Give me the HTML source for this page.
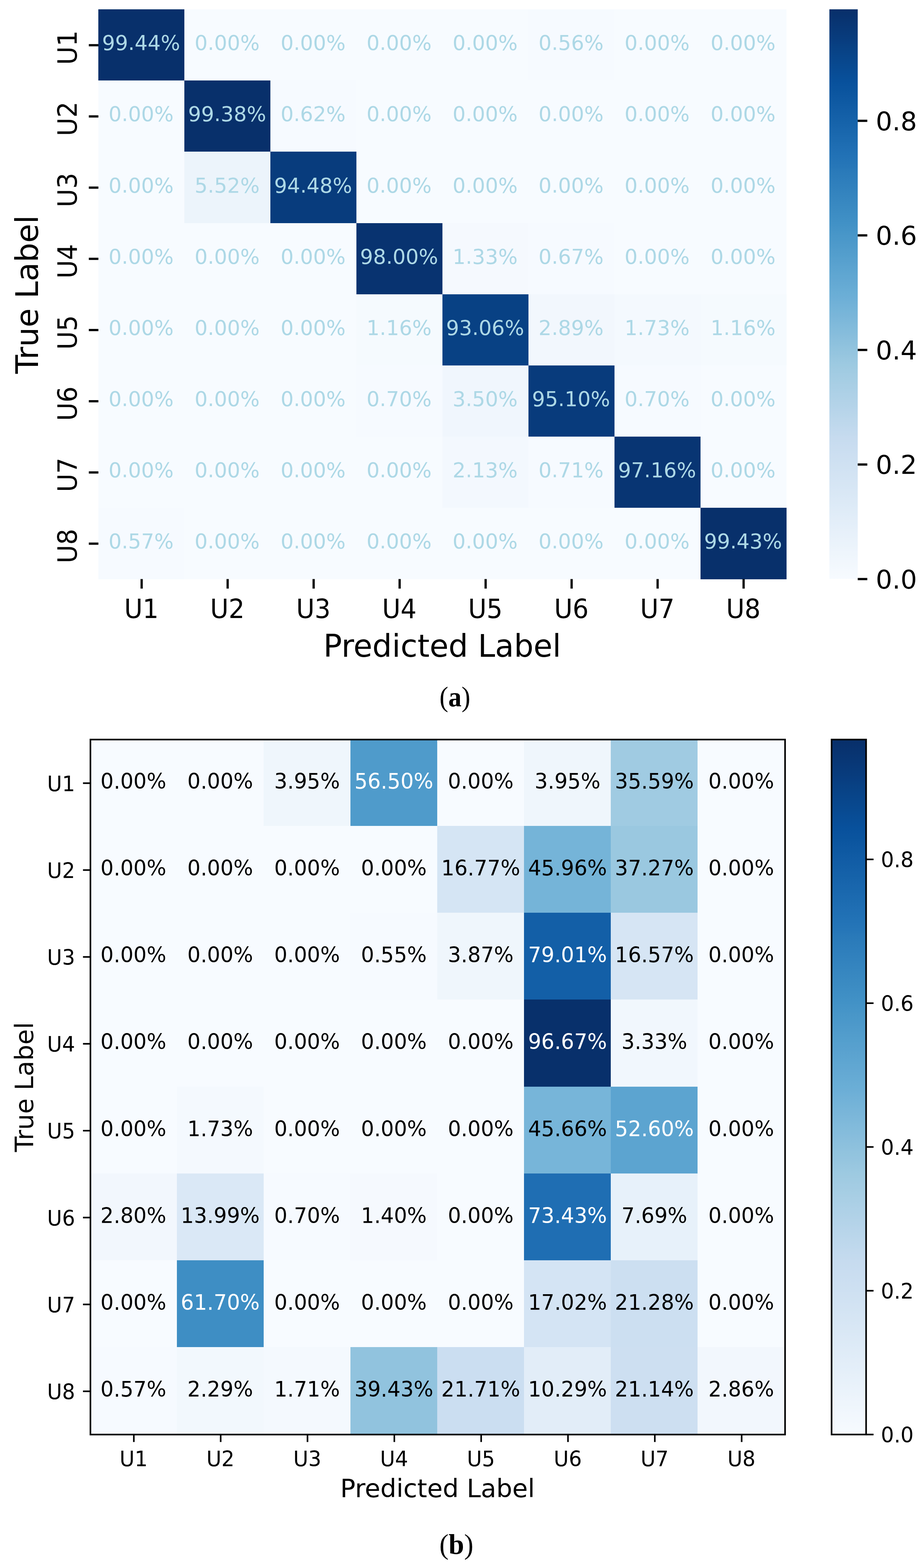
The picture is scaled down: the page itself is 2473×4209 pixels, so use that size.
<!DOCTYPE html>
<html><head><meta charset="utf-8"><title>Confusion matrices</title>
<style>html,body{margin:0;padding:0;background:#fff;}body{width:2473px;height:4209px;overflow:hidden;}svg{display:block;}</style>
</head><body>
<svg width="2473" height="4209" viewBox="0 0 2473 4209">
<defs><linearGradient id="ga" x1="0" y1="1" x2="0" y2="0"><stop offset="0.0000" stop-color="#f7fbff"/><stop offset="0.0039" stop-color="#f6faff"/><stop offset="0.0078" stop-color="#f5fafe"/><stop offset="0.0117" stop-color="#f5f9fe"/><stop offset="0.0156" stop-color="#f4f9fe"/><stop offset="0.0195" stop-color="#f3f8fe"/><stop offset="0.0234" stop-color="#f2f8fd"/><stop offset="0.0273" stop-color="#f2f7fd"/><stop offset="0.0312" stop-color="#f1f7fd"/><stop offset="0.0352" stop-color="#f0f6fd"/><stop offset="0.0391" stop-color="#eff6fc"/><stop offset="0.0430" stop-color="#eef5fc"/><stop offset="0.0469" stop-color="#eef5fc"/><stop offset="0.0508" stop-color="#edf4fc"/><stop offset="0.0547" stop-color="#ecf4fb"/><stop offset="0.0586" stop-color="#ebf3fb"/><stop offset="0.0625" stop-color="#eaf3fb"/><stop offset="0.0664" stop-color="#eaf2fb"/><stop offset="0.0703" stop-color="#e9f2fa"/><stop offset="0.0742" stop-color="#e8f1fa"/><stop offset="0.0781" stop-color="#e7f1fa"/><stop offset="0.0820" stop-color="#e7f0fa"/><stop offset="0.0859" stop-color="#e6f0f9"/><stop offset="0.0898" stop-color="#e5eff9"/><stop offset="0.0938" stop-color="#e4eff9"/><stop offset="0.0977" stop-color="#e3eef9"/><stop offset="0.1016" stop-color="#e3eef8"/><stop offset="0.1055" stop-color="#e2edf8"/><stop offset="0.1094" stop-color="#e1edf8"/><stop offset="0.1133" stop-color="#e0ecf8"/><stop offset="0.1172" stop-color="#dfecf7"/><stop offset="0.1211" stop-color="#dfebf7"/><stop offset="0.1250" stop-color="#deebf7"/><stop offset="0.1289" stop-color="#ddeaf7"/><stop offset="0.1328" stop-color="#dceaf6"/><stop offset="0.1367" stop-color="#dce9f6"/><stop offset="0.1406" stop-color="#dbe9f6"/><stop offset="0.1445" stop-color="#dae8f6"/><stop offset="0.1484" stop-color="#d9e8f5"/><stop offset="0.1523" stop-color="#d9e7f5"/><stop offset="0.1562" stop-color="#d8e7f5"/><stop offset="0.1602" stop-color="#d7e6f5"/><stop offset="0.1641" stop-color="#d6e6f4"/><stop offset="0.1680" stop-color="#d6e5f4"/><stop offset="0.1719" stop-color="#d5e5f4"/><stop offset="0.1758" stop-color="#d4e4f4"/><stop offset="0.1797" stop-color="#d3e4f3"/><stop offset="0.1836" stop-color="#d3e3f3"/><stop offset="0.1875" stop-color="#d2e3f3"/><stop offset="0.1914" stop-color="#d1e2f3"/><stop offset="0.1953" stop-color="#d0e2f2"/><stop offset="0.1992" stop-color="#d0e1f2"/><stop offset="0.2031" stop-color="#cfe1f2"/><stop offset="0.2070" stop-color="#cee0f2"/><stop offset="0.2109" stop-color="#cde0f1"/><stop offset="0.2148" stop-color="#cddff1"/><stop offset="0.2188" stop-color="#ccdff1"/><stop offset="0.2227" stop-color="#cbdef1"/><stop offset="0.2266" stop-color="#cadef0"/><stop offset="0.2305" stop-color="#caddf0"/><stop offset="0.2344" stop-color="#c9ddf0"/><stop offset="0.2383" stop-color="#c8dcf0"/><stop offset="0.2422" stop-color="#c7dcef"/><stop offset="0.2461" stop-color="#c7dbef"/><stop offset="0.2500" stop-color="#c6dbef"/><stop offset="0.2539" stop-color="#c4daee"/><stop offset="0.2578" stop-color="#c3daee"/><stop offset="0.2617" stop-color="#c2d9ee"/><stop offset="0.2656" stop-color="#c1d9ed"/><stop offset="0.2695" stop-color="#bfd8ed"/><stop offset="0.2734" stop-color="#bed8ec"/><stop offset="0.2773" stop-color="#bdd7ec"/><stop offset="0.2812" stop-color="#bcd7eb"/><stop offset="0.2852" stop-color="#bad6eb"/><stop offset="0.2891" stop-color="#b9d6ea"/><stop offset="0.2930" stop-color="#b8d5ea"/><stop offset="0.2969" stop-color="#b7d4ea"/><stop offset="0.3008" stop-color="#b5d4e9"/><stop offset="0.3047" stop-color="#b4d3e9"/><stop offset="0.3086" stop-color="#b3d3e8"/><stop offset="0.3125" stop-color="#b2d2e8"/><stop offset="0.3164" stop-color="#b0d2e7"/><stop offset="0.3203" stop-color="#afd1e7"/><stop offset="0.3242" stop-color="#aed1e7"/><stop offset="0.3281" stop-color="#add0e6"/><stop offset="0.3320" stop-color="#abd0e6"/><stop offset="0.3359" stop-color="#aacfe5"/><stop offset="0.3398" stop-color="#a9cfe5"/><stop offset="0.3438" stop-color="#a8cee4"/><stop offset="0.3477" stop-color="#a6cee4"/><stop offset="0.3516" stop-color="#a5cde3"/><stop offset="0.3555" stop-color="#a4cce3"/><stop offset="0.3594" stop-color="#a3cce3"/><stop offset="0.3633" stop-color="#a1cbe2"/><stop offset="0.3672" stop-color="#a0cbe2"/><stop offset="0.3711" stop-color="#9fcae1"/><stop offset="0.3750" stop-color="#9dcae1"/><stop offset="0.3789" stop-color="#9cc9e1"/><stop offset="0.3828" stop-color="#9ac8e0"/><stop offset="0.3867" stop-color="#99c7e0"/><stop offset="0.3906" stop-color="#97c6df"/><stop offset="0.3945" stop-color="#95c5df"/><stop offset="0.3984" stop-color="#94c4df"/><stop offset="0.4023" stop-color="#92c4de"/><stop offset="0.4062" stop-color="#91c3de"/><stop offset="0.4102" stop-color="#8fc2de"/><stop offset="0.4141" stop-color="#8dc1dd"/><stop offset="0.4180" stop-color="#8cc0dd"/><stop offset="0.4219" stop-color="#8abfdd"/><stop offset="0.4258" stop-color="#89bedc"/><stop offset="0.4297" stop-color="#87bddc"/><stop offset="0.4336" stop-color="#85bcdc"/><stop offset="0.4375" stop-color="#84bcdb"/><stop offset="0.4414" stop-color="#82bbdb"/><stop offset="0.4453" stop-color="#81badb"/><stop offset="0.4492" stop-color="#7fb9da"/><stop offset="0.4531" stop-color="#7db8da"/><stop offset="0.4570" stop-color="#7cb7da"/><stop offset="0.4609" stop-color="#7ab6d9"/><stop offset="0.4648" stop-color="#79b5d9"/><stop offset="0.4688" stop-color="#77b5d9"/><stop offset="0.4727" stop-color="#75b4d8"/><stop offset="0.4766" stop-color="#74b3d8"/><stop offset="0.4805" stop-color="#72b2d8"/><stop offset="0.4844" stop-color="#71b1d7"/><stop offset="0.4883" stop-color="#6fb0d7"/><stop offset="0.4922" stop-color="#6dafd7"/><stop offset="0.4961" stop-color="#6caed6"/><stop offset="0.5000" stop-color="#6aaed6"/><stop offset="0.5039" stop-color="#69add5"/><stop offset="0.5078" stop-color="#68acd5"/><stop offset="0.5117" stop-color="#66abd4"/><stop offset="0.5156" stop-color="#65aad4"/><stop offset="0.5195" stop-color="#64a9d3"/><stop offset="0.5234" stop-color="#63a8d3"/><stop offset="0.5273" stop-color="#61a7d2"/><stop offset="0.5312" stop-color="#60a7d2"/><stop offset="0.5352" stop-color="#5fa6d1"/><stop offset="0.5391" stop-color="#5da5d1"/><stop offset="0.5430" stop-color="#5ca4d0"/><stop offset="0.5469" stop-color="#5ba3d0"/><stop offset="0.5508" stop-color="#5aa2cf"/><stop offset="0.5547" stop-color="#58a1cf"/><stop offset="0.5586" stop-color="#57a0ce"/><stop offset="0.5625" stop-color="#56a0ce"/><stop offset="0.5664" stop-color="#549fcd"/><stop offset="0.5703" stop-color="#539ecd"/><stop offset="0.5742" stop-color="#529dcc"/><stop offset="0.5781" stop-color="#519ccc"/><stop offset="0.5820" stop-color="#4f9bcb"/><stop offset="0.5859" stop-color="#4e9acb"/><stop offset="0.5898" stop-color="#4d99ca"/><stop offset="0.5938" stop-color="#4b98ca"/><stop offset="0.5977" stop-color="#4a98c9"/><stop offset="0.6016" stop-color="#4997c9"/><stop offset="0.6055" stop-color="#4896c8"/><stop offset="0.6094" stop-color="#4695c8"/><stop offset="0.6133" stop-color="#4594c7"/><stop offset="0.6172" stop-color="#4493c7"/><stop offset="0.6211" stop-color="#4292c6"/><stop offset="0.6250" stop-color="#4191c6"/><stop offset="0.6289" stop-color="#4090c5"/><stop offset="0.6328" stop-color="#3f8fc5"/><stop offset="0.6367" stop-color="#3e8ec4"/><stop offset="0.6406" stop-color="#3d8dc4"/><stop offset="0.6445" stop-color="#3c8cc3"/><stop offset="0.6484" stop-color="#3b8bc2"/><stop offset="0.6523" stop-color="#3a8ac2"/><stop offset="0.6562" stop-color="#3989c1"/><stop offset="0.6602" stop-color="#3888c1"/><stop offset="0.6641" stop-color="#3787c0"/><stop offset="0.6680" stop-color="#3686c0"/><stop offset="0.6719" stop-color="#3585bf"/><stop offset="0.6758" stop-color="#3484bf"/><stop offset="0.6797" stop-color="#3383be"/><stop offset="0.6836" stop-color="#3282be"/><stop offset="0.6875" stop-color="#3181bd"/><stop offset="0.6914" stop-color="#3080bd"/><stop offset="0.6953" stop-color="#2f7fbc"/><stop offset="0.6992" stop-color="#2e7ebc"/><stop offset="0.7031" stop-color="#2d7dbb"/><stop offset="0.7070" stop-color="#2c7cba"/><stop offset="0.7109" stop-color="#2b7bba"/><stop offset="0.7148" stop-color="#2a7ab9"/><stop offset="0.7188" stop-color="#2979b9"/><stop offset="0.7227" stop-color="#2777b8"/><stop offset="0.7266" stop-color="#2676b8"/><stop offset="0.7305" stop-color="#2575b7"/><stop offset="0.7344" stop-color="#2474b7"/><stop offset="0.7383" stop-color="#2373b6"/><stop offset="0.7422" stop-color="#2272b6"/><stop offset="0.7461" stop-color="#2171b5"/><stop offset="0.7500" stop-color="#2070b4"/><stop offset="0.7539" stop-color="#206fb4"/><stop offset="0.7578" stop-color="#1f6eb3"/><stop offset="0.7617" stop-color="#1e6db2"/><stop offset="0.7656" stop-color="#1d6cb1"/><stop offset="0.7695" stop-color="#1c6bb0"/><stop offset="0.7734" stop-color="#1c6ab0"/><stop offset="0.7773" stop-color="#1b69af"/><stop offset="0.7812" stop-color="#1a68ae"/><stop offset="0.7852" stop-color="#1967ad"/><stop offset="0.7891" stop-color="#1966ad"/><stop offset="0.7930" stop-color="#1865ac"/><stop offset="0.7969" stop-color="#1764ab"/><stop offset="0.8008" stop-color="#1663aa"/><stop offset="0.8047" stop-color="#1562a9"/><stop offset="0.8086" stop-color="#1561a9"/><stop offset="0.8125" stop-color="#1460a8"/><stop offset="0.8164" stop-color="#135fa7"/><stop offset="0.8203" stop-color="#125ea6"/><stop offset="0.8242" stop-color="#125da6"/><stop offset="0.8281" stop-color="#115ca5"/><stop offset="0.8320" stop-color="#105ba4"/><stop offset="0.8359" stop-color="#0f5aa3"/><stop offset="0.8398" stop-color="#0e59a2"/><stop offset="0.8438" stop-color="#0e58a2"/><stop offset="0.8477" stop-color="#0d57a1"/><stop offset="0.8516" stop-color="#0c56a0"/><stop offset="0.8555" stop-color="#0b559f"/><stop offset="0.8594" stop-color="#0a549e"/><stop offset="0.8633" stop-color="#0a539e"/><stop offset="0.8672" stop-color="#09529d"/><stop offset="0.8711" stop-color="#08519c"/><stop offset="0.8750" stop-color="#08509b"/><stop offset="0.8789" stop-color="#084f99"/><stop offset="0.8828" stop-color="#084e98"/><stop offset="0.8867" stop-color="#084d96"/><stop offset="0.8906" stop-color="#084c95"/><stop offset="0.8945" stop-color="#084b93"/><stop offset="0.8984" stop-color="#084a91"/><stop offset="0.9023" stop-color="#084990"/><stop offset="0.9062" stop-color="#08488e"/><stop offset="0.9102" stop-color="#08478d"/><stop offset="0.9141" stop-color="#08468b"/><stop offset="0.9180" stop-color="#08458a"/><stop offset="0.9219" stop-color="#084488"/><stop offset="0.9258" stop-color="#084387"/><stop offset="0.9297" stop-color="#084285"/><stop offset="0.9336" stop-color="#084184"/><stop offset="0.9375" stop-color="#084082"/><stop offset="0.9414" stop-color="#083e81"/><stop offset="0.9453" stop-color="#083d7f"/><stop offset="0.9492" stop-color="#083c7d"/><stop offset="0.9531" stop-color="#083b7c"/><stop offset="0.9570" stop-color="#083a7a"/><stop offset="0.9609" stop-color="#083979"/><stop offset="0.9648" stop-color="#083877"/><stop offset="0.9688" stop-color="#083776"/><stop offset="0.9727" stop-color="#083674"/><stop offset="0.9766" stop-color="#083573"/><stop offset="0.9805" stop-color="#083471"/><stop offset="0.9844" stop-color="#083370"/><stop offset="0.9883" stop-color="#08326e"/><stop offset="0.9922" stop-color="#08316d"/><stop offset="0.9961" stop-color="#08306b"/><stop offset="1.0000" stop-color="#08306b"/></linearGradient><linearGradient id="gb" x1="0" y1="1" x2="0" y2="0"><stop offset="0.0000" stop-color="#f7fbff"/><stop offset="0.0039" stop-color="#f6faff"/><stop offset="0.0078" stop-color="#f5fafe"/><stop offset="0.0117" stop-color="#f5f9fe"/><stop offset="0.0156" stop-color="#f4f9fe"/><stop offset="0.0195" stop-color="#f3f8fe"/><stop offset="0.0234" stop-color="#f2f8fd"/><stop offset="0.0273" stop-color="#f2f7fd"/><stop offset="0.0312" stop-color="#f1f7fd"/><stop offset="0.0352" stop-color="#f0f6fd"/><stop offset="0.0391" stop-color="#eff6fc"/><stop offset="0.0430" stop-color="#eef5fc"/><stop offset="0.0469" stop-color="#eef5fc"/><stop offset="0.0508" stop-color="#edf4fc"/><stop offset="0.0547" stop-color="#ecf4fb"/><stop offset="0.0586" stop-color="#ebf3fb"/><stop offset="0.0625" stop-color="#eaf3fb"/><stop offset="0.0664" stop-color="#eaf2fb"/><stop offset="0.0703" stop-color="#e9f2fa"/><stop offset="0.0742" stop-color="#e8f1fa"/><stop offset="0.0781" stop-color="#e7f1fa"/><stop offset="0.0820" stop-color="#e7f0fa"/><stop offset="0.0859" stop-color="#e6f0f9"/><stop offset="0.0898" stop-color="#e5eff9"/><stop offset="0.0938" stop-color="#e4eff9"/><stop offset="0.0977" stop-color="#e3eef9"/><stop offset="0.1016" stop-color="#e3eef8"/><stop offset="0.1055" stop-color="#e2edf8"/><stop offset="0.1094" stop-color="#e1edf8"/><stop offset="0.1133" stop-color="#e0ecf8"/><stop offset="0.1172" stop-color="#dfecf7"/><stop offset="0.1211" stop-color="#dfebf7"/><stop offset="0.1250" stop-color="#deebf7"/><stop offset="0.1289" stop-color="#ddeaf7"/><stop offset="0.1328" stop-color="#dceaf6"/><stop offset="0.1367" stop-color="#dce9f6"/><stop offset="0.1406" stop-color="#dbe9f6"/><stop offset="0.1445" stop-color="#dae8f6"/><stop offset="0.1484" stop-color="#d9e8f5"/><stop offset="0.1523" stop-color="#d9e7f5"/><stop offset="0.1562" stop-color="#d8e7f5"/><stop offset="0.1602" stop-color="#d7e6f5"/><stop offset="0.1641" stop-color="#d6e6f4"/><stop offset="0.1680" stop-color="#d6e5f4"/><stop offset="0.1719" stop-color="#d5e5f4"/><stop offset="0.1758" stop-color="#d4e4f4"/><stop offset="0.1797" stop-color="#d3e4f3"/><stop offset="0.1836" stop-color="#d3e3f3"/><stop offset="0.1875" stop-color="#d2e3f3"/><stop offset="0.1914" stop-color="#d1e2f3"/><stop offset="0.1953" stop-color="#d0e2f2"/><stop offset="0.1992" stop-color="#d0e1f2"/><stop offset="0.2031" stop-color="#cfe1f2"/><stop offset="0.2070" stop-color="#cee0f2"/><stop offset="0.2109" stop-color="#cde0f1"/><stop offset="0.2148" stop-color="#cddff1"/><stop offset="0.2188" stop-color="#ccdff1"/><stop offset="0.2227" stop-color="#cbdef1"/><stop offset="0.2266" stop-color="#cadef0"/><stop offset="0.2305" stop-color="#caddf0"/><stop offset="0.2344" stop-color="#c9ddf0"/><stop offset="0.2383" stop-color="#c8dcf0"/><stop offset="0.2422" stop-color="#c7dcef"/><stop offset="0.2461" stop-color="#c7dbef"/><stop offset="0.2500" stop-color="#c6dbef"/><stop offset="0.2539" stop-color="#c4daee"/><stop offset="0.2578" stop-color="#c3daee"/><stop offset="0.2617" stop-color="#c2d9ee"/><stop offset="0.2656" stop-color="#c1d9ed"/><stop offset="0.2695" stop-color="#bfd8ed"/><stop offset="0.2734" stop-color="#bed8ec"/><stop offset="0.2773" stop-color="#bdd7ec"/><stop offset="0.2812" stop-color="#bcd7eb"/><stop offset="0.2852" stop-color="#bad6eb"/><stop offset="0.2891" stop-color="#b9d6ea"/><stop offset="0.2930" stop-color="#b8d5ea"/><stop offset="0.2969" stop-color="#b7d4ea"/><stop offset="0.3008" stop-color="#b5d4e9"/><stop offset="0.3047" stop-color="#b4d3e9"/><stop offset="0.3086" stop-color="#b3d3e8"/><stop offset="0.3125" stop-color="#b2d2e8"/><stop offset="0.3164" stop-color="#b0d2e7"/><stop offset="0.3203" stop-color="#afd1e7"/><stop offset="0.3242" stop-color="#aed1e7"/><stop offset="0.3281" stop-color="#add0e6"/><stop offset="0.3320" stop-color="#abd0e6"/><stop offset="0.3359" stop-color="#aacfe5"/><stop offset="0.3398" stop-color="#a9cfe5"/><stop offset="0.3438" stop-color="#a8cee4"/><stop offset="0.3477" stop-color="#a6cee4"/><stop offset="0.3516" stop-color="#a5cde3"/><stop offset="0.3555" stop-color="#a4cce3"/><stop offset="0.3594" stop-color="#a3cce3"/><stop offset="0.3633" stop-color="#a1cbe2"/><stop offset="0.3672" stop-color="#a0cbe2"/><stop offset="0.3711" stop-color="#9fcae1"/><stop offset="0.3750" stop-color="#9dcae1"/><stop offset="0.3789" stop-color="#9cc9e1"/><stop offset="0.3828" stop-color="#9ac8e0"/><stop offset="0.3867" stop-color="#99c7e0"/><stop offset="0.3906" stop-color="#97c6df"/><stop offset="0.3945" stop-color="#95c5df"/><stop offset="0.3984" stop-color="#94c4df"/><stop offset="0.4023" stop-color="#92c4de"/><stop offset="0.4062" stop-color="#91c3de"/><stop offset="0.4102" stop-color="#8fc2de"/><stop offset="0.4141" stop-color="#8dc1dd"/><stop offset="0.4180" stop-color="#8cc0dd"/><stop offset="0.4219" stop-color="#8abfdd"/><stop offset="0.4258" stop-color="#89bedc"/><stop offset="0.4297" stop-color="#87bddc"/><stop offset="0.4336" stop-color="#85bcdc"/><stop offset="0.4375" stop-color="#84bcdb"/><stop offset="0.4414" stop-color="#82bbdb"/><stop offset="0.4453" stop-color="#81badb"/><stop offset="0.4492" stop-color="#7fb9da"/><stop offset="0.4531" stop-color="#7db8da"/><stop offset="0.4570" stop-color="#7cb7da"/><stop offset="0.4609" stop-color="#7ab6d9"/><stop offset="0.4648" stop-color="#79b5d9"/><stop offset="0.4688" stop-color="#77b5d9"/><stop offset="0.4727" stop-color="#75b4d8"/><stop offset="0.4766" stop-color="#74b3d8"/><stop offset="0.4805" stop-color="#72b2d8"/><stop offset="0.4844" stop-color="#71b1d7"/><stop offset="0.4883" stop-color="#6fb0d7"/><stop offset="0.4922" stop-color="#6dafd7"/><stop offset="0.4961" stop-color="#6caed6"/><stop offset="0.5000" stop-color="#6aaed6"/><stop offset="0.5039" stop-color="#69add5"/><stop offset="0.5078" stop-color="#68acd5"/><stop offset="0.5117" stop-color="#66abd4"/><stop offset="0.5156" stop-color="#65aad4"/><stop offset="0.5195" stop-color="#64a9d3"/><stop offset="0.5234" stop-color="#63a8d3"/><stop offset="0.5273" stop-color="#61a7d2"/><stop offset="0.5312" stop-color="#60a7d2"/><stop offset="0.5352" stop-color="#5fa6d1"/><stop offset="0.5391" stop-color="#5da5d1"/><stop offset="0.5430" stop-color="#5ca4d0"/><stop offset="0.5469" stop-color="#5ba3d0"/><stop offset="0.5508" stop-color="#5aa2cf"/><stop offset="0.5547" stop-color="#58a1cf"/><stop offset="0.5586" stop-color="#57a0ce"/><stop offset="0.5625" stop-color="#56a0ce"/><stop offset="0.5664" stop-color="#549fcd"/><stop offset="0.5703" stop-color="#539ecd"/><stop offset="0.5742" stop-color="#529dcc"/><stop offset="0.5781" stop-color="#519ccc"/><stop offset="0.5820" stop-color="#4f9bcb"/><stop offset="0.5859" stop-color="#4e9acb"/><stop offset="0.5898" stop-color="#4d99ca"/><stop offset="0.5938" stop-color="#4b98ca"/><stop offset="0.5977" stop-color="#4a98c9"/><stop offset="0.6016" stop-color="#4997c9"/><stop offset="0.6055" stop-color="#4896c8"/><stop offset="0.6094" stop-color="#4695c8"/><stop offset="0.6133" stop-color="#4594c7"/><stop offset="0.6172" stop-color="#4493c7"/><stop offset="0.6211" stop-color="#4292c6"/><stop offset="0.6250" stop-color="#4191c6"/><stop offset="0.6289" stop-color="#4090c5"/><stop offset="0.6328" stop-color="#3f8fc5"/><stop offset="0.6367" stop-color="#3e8ec4"/><stop offset="0.6406" stop-color="#3d8dc4"/><stop offset="0.6445" stop-color="#3c8cc3"/><stop offset="0.6484" stop-color="#3b8bc2"/><stop offset="0.6523" stop-color="#3a8ac2"/><stop offset="0.6562" stop-color="#3989c1"/><stop offset="0.6602" stop-color="#3888c1"/><stop offset="0.6641" stop-color="#3787c0"/><stop offset="0.6680" stop-color="#3686c0"/><stop offset="0.6719" stop-color="#3585bf"/><stop offset="0.6758" stop-color="#3484bf"/><stop offset="0.6797" stop-color="#3383be"/><stop offset="0.6836" stop-color="#3282be"/><stop offset="0.6875" stop-color="#3181bd"/><stop offset="0.6914" stop-color="#3080bd"/><stop offset="0.6953" stop-color="#2f7fbc"/><stop offset="0.6992" stop-color="#2e7ebc"/><stop offset="0.7031" stop-color="#2d7dbb"/><stop offset="0.7070" stop-color="#2c7cba"/><stop offset="0.7109" stop-color="#2b7bba"/><stop offset="0.7148" stop-color="#2a7ab9"/><stop offset="0.7188" stop-color="#2979b9"/><stop offset="0.7227" stop-color="#2777b8"/><stop offset="0.7266" stop-color="#2676b8"/><stop offset="0.7305" stop-color="#2575b7"/><stop offset="0.7344" stop-color="#2474b7"/><stop offset="0.7383" stop-color="#2373b6"/><stop offset="0.7422" stop-color="#2272b6"/><stop offset="0.7461" stop-color="#2171b5"/><stop offset="0.7500" stop-color="#2070b4"/><stop offset="0.7539" stop-color="#206fb4"/><stop offset="0.7578" stop-color="#1f6eb3"/><stop offset="0.7617" stop-color="#1e6db2"/><stop offset="0.7656" stop-color="#1d6cb1"/><stop offset="0.7695" stop-color="#1c6bb0"/><stop offset="0.7734" stop-color="#1c6ab0"/><stop offset="0.7773" stop-color="#1b69af"/><stop offset="0.7812" stop-color="#1a68ae"/><stop offset="0.7852" stop-color="#1967ad"/><stop offset="0.7891" stop-color="#1966ad"/><stop offset="0.7930" stop-color="#1865ac"/><stop offset="0.7969" stop-color="#1764ab"/><stop offset="0.8008" stop-color="#1663aa"/><stop offset="0.8047" stop-color="#1562a9"/><stop offset="0.8086" stop-color="#1561a9"/><stop offset="0.8125" stop-color="#1460a8"/><stop offset="0.8164" stop-color="#135fa7"/><stop offset="0.8203" stop-color="#125ea6"/><stop offset="0.8242" stop-color="#125da6"/><stop offset="0.8281" stop-color="#115ca5"/><stop offset="0.8320" stop-color="#105ba4"/><stop offset="0.8359" stop-color="#0f5aa3"/><stop offset="0.8398" stop-color="#0e59a2"/><stop offset="0.8438" stop-color="#0e58a2"/><stop offset="0.8477" stop-color="#0d57a1"/><stop offset="0.8516" stop-color="#0c56a0"/><stop offset="0.8555" stop-color="#0b559f"/><stop offset="0.8594" stop-color="#0a549e"/><stop offset="0.8633" stop-color="#0a539e"/><stop offset="0.8672" stop-color="#09529d"/><stop offset="0.8711" stop-color="#08519c"/><stop offset="0.8750" stop-color="#08509b"/><stop offset="0.8789" stop-color="#084f99"/><stop offset="0.8828" stop-color="#084e98"/><stop offset="0.8867" stop-color="#084d96"/><stop offset="0.8906" stop-color="#084c95"/><stop offset="0.8945" stop-color="#084b93"/><stop offset="0.8984" stop-color="#084a91"/><stop offset="0.9023" stop-color="#084990"/><stop offset="0.9062" stop-color="#08488e"/><stop offset="0.9102" stop-color="#08478d"/><stop offset="0.9141" stop-color="#08468b"/><stop offset="0.9180" stop-color="#08458a"/><stop offset="0.9219" stop-color="#084488"/><stop offset="0.9258" stop-color="#084387"/><stop offset="0.9297" stop-color="#084285"/><stop offset="0.9336" stop-color="#084184"/><stop offset="0.9375" stop-color="#084082"/><stop offset="0.9414" stop-color="#083e81"/><stop offset="0.9453" stop-color="#083d7f"/><stop offset="0.9492" stop-color="#083c7d"/><stop offset="0.9531" stop-color="#083b7c"/><stop offset="0.9570" stop-color="#083a7a"/><stop offset="0.9609" stop-color="#083979"/><stop offset="0.9648" stop-color="#083877"/><stop offset="0.9688" stop-color="#083776"/><stop offset="0.9727" stop-color="#083674"/><stop offset="0.9766" stop-color="#083573"/><stop offset="0.9805" stop-color="#083471"/><stop offset="0.9844" stop-color="#083370"/><stop offset="0.9883" stop-color="#08326e"/><stop offset="0.9922" stop-color="#08316d"/><stop offset="0.9961" stop-color="#08306b"/><stop offset="1.0000" stop-color="#08306b"/></linearGradient></defs>
<rect x="0" y="0" width="2473" height="4209" fill="#ffffff"/>
<g shape-rendering="crispEdges">
<rect x="264.20" y="25.20" width="231.40" height="191.64" fill="#08306b"/>
<rect x="495.10" y="25.20" width="231.40" height="191.64" fill="#f7fbff"/>
<rect x="726.00" y="25.20" width="231.40" height="191.64" fill="#f7fbff"/>
<rect x="956.90" y="25.20" width="231.40" height="191.64" fill="#f7fbff"/>
<rect x="1187.80" y="25.20" width="231.40" height="191.64" fill="#f7fbff"/>
<rect x="1418.70" y="25.20" width="231.40" height="191.64" fill="#f6faff"/>
<rect x="1649.60" y="25.20" width="231.40" height="191.64" fill="#f7fbff"/>
<rect x="1880.50" y="25.20" width="231.40" height="191.64" fill="#f7fbff"/>
<rect x="264.20" y="216.34" width="231.40" height="191.64" fill="#f7fbff"/>
<rect x="495.10" y="216.34" width="231.40" height="191.64" fill="#08306b"/>
<rect x="726.00" y="216.34" width="231.40" height="191.64" fill="#f6faff"/>
<rect x="956.90" y="216.34" width="231.40" height="191.64" fill="#f7fbff"/>
<rect x="1187.80" y="216.34" width="231.40" height="191.64" fill="#f7fbff"/>
<rect x="1418.70" y="216.34" width="231.40" height="191.64" fill="#f7fbff"/>
<rect x="1649.60" y="216.34" width="231.40" height="191.64" fill="#f7fbff"/>
<rect x="1880.50" y="216.34" width="231.40" height="191.64" fill="#f7fbff"/>
<rect x="264.20" y="407.48" width="231.40" height="191.64" fill="#f7fbff"/>
<rect x="495.10" y="407.48" width="231.40" height="191.64" fill="#ecf4fb"/>
<rect x="726.00" y="407.48" width="231.40" height="191.64" fill="#083c7d"/>
<rect x="956.90" y="407.48" width="231.40" height="191.64" fill="#f7fbff"/>
<rect x="1187.80" y="407.48" width="231.40" height="191.64" fill="#f7fbff"/>
<rect x="1418.70" y="407.48" width="231.40" height="191.64" fill="#f7fbff"/>
<rect x="1649.60" y="407.48" width="231.40" height="191.64" fill="#f7fbff"/>
<rect x="1880.50" y="407.48" width="231.40" height="191.64" fill="#f7fbff"/>
<rect x="264.20" y="598.62" width="231.40" height="191.64" fill="#f7fbff"/>
<rect x="495.10" y="598.62" width="231.40" height="191.64" fill="#f7fbff"/>
<rect x="726.00" y="598.62" width="231.40" height="191.64" fill="#f7fbff"/>
<rect x="956.90" y="598.62" width="231.40" height="191.64" fill="#083370"/>
<rect x="1187.80" y="598.62" width="231.40" height="191.64" fill="#f5f9fe"/>
<rect x="1418.70" y="598.62" width="231.40" height="191.64" fill="#f6faff"/>
<rect x="1649.60" y="598.62" width="231.40" height="191.64" fill="#f7fbff"/>
<rect x="1880.50" y="598.62" width="231.40" height="191.64" fill="#f7fbff"/>
<rect x="264.20" y="789.76" width="231.40" height="191.64" fill="#f7fbff"/>
<rect x="495.10" y="789.76" width="231.40" height="191.64" fill="#f7fbff"/>
<rect x="726.00" y="789.76" width="231.40" height="191.64" fill="#f7fbff"/>
<rect x="956.90" y="789.76" width="231.40" height="191.64" fill="#f5fafe"/>
<rect x="1187.80" y="789.76" width="231.40" height="191.64" fill="#084184"/>
<rect x="1418.70" y="789.76" width="231.40" height="191.64" fill="#f2f7fd"/>
<rect x="1649.60" y="789.76" width="231.40" height="191.64" fill="#f4f9fe"/>
<rect x="1880.50" y="789.76" width="231.40" height="191.64" fill="#f5fafe"/>
<rect x="264.20" y="980.90" width="231.40" height="191.64" fill="#f7fbff"/>
<rect x="495.10" y="980.90" width="231.40" height="191.64" fill="#f7fbff"/>
<rect x="726.00" y="980.90" width="231.40" height="191.64" fill="#f7fbff"/>
<rect x="956.90" y="980.90" width="231.40" height="191.64" fill="#f6faff"/>
<rect x="1187.80" y="980.90" width="231.40" height="191.64" fill="#f0f6fd"/>
<rect x="1418.70" y="980.90" width="231.40" height="191.64" fill="#083b7c"/>
<rect x="1649.60" y="980.90" width="231.40" height="191.64" fill="#f6faff"/>
<rect x="1880.50" y="980.90" width="231.40" height="191.64" fill="#f7fbff"/>
<rect x="264.20" y="1172.04" width="231.40" height="191.64" fill="#f7fbff"/>
<rect x="495.10" y="1172.04" width="231.40" height="191.64" fill="#f7fbff"/>
<rect x="726.00" y="1172.04" width="231.40" height="191.64" fill="#f7fbff"/>
<rect x="956.90" y="1172.04" width="231.40" height="191.64" fill="#f7fbff"/>
<rect x="1187.80" y="1172.04" width="231.40" height="191.64" fill="#f3f8fe"/>
<rect x="1418.70" y="1172.04" width="231.40" height="191.64" fill="#f6faff"/>
<rect x="1649.60" y="1172.04" width="231.40" height="191.64" fill="#083573"/>
<rect x="1880.50" y="1172.04" width="231.40" height="191.64" fill="#f7fbff"/>
<rect x="264.20" y="1363.18" width="231.40" height="191.64" fill="#f6faff"/>
<rect x="495.10" y="1363.18" width="231.40" height="191.64" fill="#f7fbff"/>
<rect x="726.00" y="1363.18" width="231.40" height="191.64" fill="#f7fbff"/>
<rect x="956.90" y="1363.18" width="231.40" height="191.64" fill="#f7fbff"/>
<rect x="1187.80" y="1363.18" width="231.40" height="191.64" fill="#f7fbff"/>
<rect x="1418.70" y="1363.18" width="231.40" height="191.64" fill="#f7fbff"/>
<rect x="1649.60" y="1363.18" width="231.40" height="191.64" fill="#f7fbff"/>
<rect x="1880.50" y="1363.18" width="231.40" height="191.64" fill="#08306b"/>
</g>
<g style="font-family:'DejaVu Sans','Liberation Sans',sans-serif;font-size:55.00px" fill="#add8e6" text-anchor="middle">
<text x="378.95" y="134.32">99.44%</text>
<text x="609.85" y="134.32">0.00%</text>
<text x="840.75" y="134.32">0.00%</text>
<text x="1071.65" y="134.32">0.00%</text>
<text x="1302.55" y="134.32">0.00%</text>
<text x="1533.45" y="134.32">0.56%</text>
<text x="1764.35" y="134.32">0.00%</text>
<text x="1995.25" y="134.32">0.00%</text>
<text x="378.95" y="325.46">0.00%</text>
<text x="609.85" y="325.46">99.38%</text>
<text x="840.75" y="325.46">0.62%</text>
<text x="1071.65" y="325.46">0.00%</text>
<text x="1302.55" y="325.46">0.00%</text>
<text x="1533.45" y="325.46">0.00%</text>
<text x="1764.35" y="325.46">0.00%</text>
<text x="1995.25" y="325.46">0.00%</text>
<text x="378.95" y="516.60">0.00%</text>
<text x="609.85" y="516.60">5.52%</text>
<text x="840.75" y="516.60">94.48%</text>
<text x="1071.65" y="516.60">0.00%</text>
<text x="1302.55" y="516.60">0.00%</text>
<text x="1533.45" y="516.60">0.00%</text>
<text x="1764.35" y="516.60">0.00%</text>
<text x="1995.25" y="516.60">0.00%</text>
<text x="378.95" y="707.74">0.00%</text>
<text x="609.85" y="707.74">0.00%</text>
<text x="840.75" y="707.74">0.00%</text>
<text x="1071.65" y="707.74">98.00%</text>
<text x="1302.55" y="707.74">1.33%</text>
<text x="1533.45" y="707.74">0.67%</text>
<text x="1764.35" y="707.74">0.00%</text>
<text x="1995.25" y="707.74">0.00%</text>
<text x="378.95" y="898.88">0.00%</text>
<text x="609.85" y="898.88">0.00%</text>
<text x="840.75" y="898.88">0.00%</text>
<text x="1071.65" y="898.88">1.16%</text>
<text x="1302.55" y="898.88">93.06%</text>
<text x="1533.45" y="898.88">2.89%</text>
<text x="1764.35" y="898.88">1.73%</text>
<text x="1995.25" y="898.88">1.16%</text>
<text x="378.95" y="1090.02">0.00%</text>
<text x="609.85" y="1090.02">0.00%</text>
<text x="840.75" y="1090.02">0.00%</text>
<text x="1071.65" y="1090.02">0.70%</text>
<text x="1302.55" y="1090.02">3.50%</text>
<text x="1533.45" y="1090.02">95.10%</text>
<text x="1764.35" y="1090.02">0.70%</text>
<text x="1995.25" y="1090.02">0.00%</text>
<text x="378.95" y="1281.16">0.00%</text>
<text x="609.85" y="1281.16">0.00%</text>
<text x="840.75" y="1281.16">0.00%</text>
<text x="1071.65" y="1281.16">0.00%</text>
<text x="1302.55" y="1281.16">2.13%</text>
<text x="1533.45" y="1281.16">0.71%</text>
<text x="1764.35" y="1281.16">97.16%</text>
<text x="1995.25" y="1281.16">0.00%</text>
<text x="378.95" y="1472.30">0.57%</text>
<text x="609.85" y="1472.30">0.00%</text>
<text x="840.75" y="1472.30">0.00%</text>
<text x="1071.65" y="1472.30">0.00%</text>
<text x="1302.55" y="1472.30">0.00%</text>
<text x="1533.45" y="1472.30">0.00%</text>
<text x="1764.35" y="1472.30">0.00%</text>
<text x="1995.25" y="1472.30">99.43%</text>
</g>
<g stroke="#000" stroke-width="6.00">
<line x1="380.35" y1="1554.32" x2="380.35" y2="1580.02"/>
<line x1="238.50" y1="121.37" x2="264.20" y2="121.37"/>
<line x1="611.25" y1="1554.32" x2="611.25" y2="1580.02"/>
<line x1="238.50" y1="312.51" x2="264.20" y2="312.51"/>
<line x1="842.15" y1="1554.32" x2="842.15" y2="1580.02"/>
<line x1="238.50" y1="503.65" x2="264.20" y2="503.65"/>
<line x1="1073.05" y1="1554.32" x2="1073.05" y2="1580.02"/>
<line x1="238.50" y1="694.79" x2="264.20" y2="694.79"/>
<line x1="1303.95" y1="1554.32" x2="1303.95" y2="1580.02"/>
<line x1="238.50" y1="885.93" x2="264.20" y2="885.93"/>
<line x1="1534.85" y1="1554.32" x2="1534.85" y2="1580.02"/>
<line x1="238.50" y1="1077.07" x2="264.20" y2="1077.07"/>
<line x1="1765.75" y1="1554.32" x2="1765.75" y2="1580.02"/>
<line x1="238.50" y1="1268.21" x2="264.20" y2="1268.21"/>
<line x1="1996.65" y1="1554.32" x2="1996.65" y2="1580.02"/>
<line x1="238.50" y1="1459.35" x2="264.20" y2="1459.35"/>
</g>
<g style="font-family:'DejaVu Sans','Liberation Sans',sans-serif;font-size:69.50px" fill="#000" text-anchor="middle">
<text transform="translate(379.65 1658.70) scale(0.973 1.020)">U1</text>
<text transform="translate(610.55 1658.70) scale(0.973 1.020)">U2</text>
<text transform="translate(841.45 1658.70) scale(0.973 1.020)">U3</text>
<text transform="translate(1072.35 1658.70) scale(0.973 1.020)">U4</text>
<text transform="translate(1303.25 1658.70) scale(0.973 1.020)">U5</text>
<text transform="translate(1534.15 1658.70) scale(0.973 1.020)">U6</text>
<text transform="translate(1765.05 1658.70) scale(0.973 1.020)">U7</text>
<text transform="translate(1995.95 1658.70) scale(0.973 1.020)">U8</text>
<text transform="translate(206.40 127.77) rotate(-90) scale(0.973 1.020)">U1</text>
<text transform="translate(206.40 318.91) rotate(-90) scale(0.973 1.020)">U2</text>
<text transform="translate(206.40 510.05) rotate(-90) scale(0.973 1.020)">U3</text>
<text transform="translate(206.40 701.19) rotate(-90) scale(0.973 1.020)">U4</text>
<text transform="translate(206.40 892.33) rotate(-90) scale(0.973 1.020)">U5</text>
<text transform="translate(206.40 1083.47) rotate(-90) scale(0.973 1.020)">U6</text>
<text transform="translate(206.40 1274.61) rotate(-90) scale(0.973 1.020)">U7</text>
<text transform="translate(206.40 1465.75) rotate(-90) scale(0.973 1.020)">U8</text>
</g>
<text style="font-family:'DejaVu Sans','Liberation Sans',sans-serif;font-size:82.80px" text-anchor="middle" x="1187.40" y="1762.50">Predicted Label</text>
<text style="font-family:'DejaVu Sans','Liberation Sans',sans-serif;font-size:82.80px" text-anchor="middle" transform="translate(101.80 790.60) rotate(-90)">True Label</text>
<rect x="2227.00" y="25.00" width="76.10" height="1529.00" fill="url(#ga)"/>
<g stroke="#000" stroke-width="6.00">
<line x1="2303.10" y1="1554.40" x2="2328.80" y2="1554.40"/>
<line x1="2303.10" y1="1246.88" x2="2328.80" y2="1246.88"/>
<line x1="2303.10" y1="939.36" x2="2328.80" y2="939.36"/>
<line x1="2303.10" y1="631.83" x2="2328.80" y2="631.83"/>
<line x1="2303.10" y1="324.31" x2="2328.80" y2="324.31"/>
</g>
<g style="font-family:'DejaVu Sans','Liberation Sans',sans-serif;font-size:69.50px" fill="#000">
<text x="2351.60" y="1579.93">0.0</text>
<text x="2351.60" y="1272.41">0.2</text>
<text x="2351.60" y="964.89">0.4</text>
<text x="2351.60" y="657.37">0.6</text>
<text x="2351.60" y="349.84">0.8</text>
</g>
<text style="font-family:'Liberation Serif',serif;font-size:76px" text-anchor="middle" transform="translate(1221.4 1896.3) scale(0.935 1)">(<tspan font-weight="bold">a</tspan>)</text>
<g shape-rendering="crispEdges">
<rect x="242.00" y="1984.00" width="233.48" height="233.63" fill="#f7fbff"/>
<rect x="474.98" y="1984.00" width="233.48" height="233.63" fill="#f7fbff"/>
<rect x="707.96" y="1984.00" width="233.48" height="233.63" fill="#eff6fc"/>
<rect x="940.94" y="1984.00" width="233.48" height="233.63" fill="#4f9bcb"/>
<rect x="1173.92" y="1984.00" width="233.48" height="233.63" fill="#f7fbff"/>
<rect x="1406.90" y="1984.00" width="233.48" height="233.63" fill="#eff6fc"/>
<rect x="1639.88" y="1984.00" width="233.48" height="233.63" fill="#a0cbe2"/>
<rect x="1872.86" y="1984.00" width="233.48" height="233.63" fill="#f7fbff"/>
<rect x="242.00" y="2217.13" width="233.48" height="233.63" fill="#f7fbff"/>
<rect x="474.98" y="2217.13" width="233.48" height="233.63" fill="#f7fbff"/>
<rect x="707.96" y="2217.13" width="233.48" height="233.63" fill="#f7fbff"/>
<rect x="940.94" y="2217.13" width="233.48" height="233.63" fill="#f7fbff"/>
<rect x="1173.92" y="2217.13" width="233.48" height="233.63" fill="#d5e5f4"/>
<rect x="1406.90" y="2217.13" width="233.48" height="233.63" fill="#75b4d8"/>
<rect x="1639.88" y="2217.13" width="233.48" height="233.63" fill="#9ac8e0"/>
<rect x="1872.86" y="2217.13" width="233.48" height="233.63" fill="#f7fbff"/>
<rect x="242.00" y="2450.26" width="233.48" height="233.63" fill="#f7fbff"/>
<rect x="474.98" y="2450.26" width="233.48" height="233.63" fill="#f7fbff"/>
<rect x="707.96" y="2450.26" width="233.48" height="233.63" fill="#f7fbff"/>
<rect x="940.94" y="2450.26" width="233.48" height="233.63" fill="#f6faff"/>
<rect x="1173.92" y="2450.26" width="233.48" height="233.63" fill="#eff6fc"/>
<rect x="1406.90" y="2450.26" width="233.48" height="233.63" fill="#135fa7"/>
<rect x="1639.88" y="2450.26" width="233.48" height="233.63" fill="#d6e5f4"/>
<rect x="1872.86" y="2450.26" width="233.48" height="233.63" fill="#f7fbff"/>
<rect x="242.00" y="2683.39" width="233.48" height="233.63" fill="#f7fbff"/>
<rect x="474.98" y="2683.39" width="233.48" height="233.63" fill="#f7fbff"/>
<rect x="707.96" y="2683.39" width="233.48" height="233.63" fill="#f7fbff"/>
<rect x="940.94" y="2683.39" width="233.48" height="233.63" fill="#f7fbff"/>
<rect x="1173.92" y="2683.39" width="233.48" height="233.63" fill="#f7fbff"/>
<rect x="1406.90" y="2683.39" width="233.48" height="233.63" fill="#08306b"/>
<rect x="1639.88" y="2683.39" width="233.48" height="233.63" fill="#f1f7fd"/>
<rect x="1872.86" y="2683.39" width="233.48" height="233.63" fill="#f7fbff"/>
<rect x="242.00" y="2916.52" width="233.48" height="233.63" fill="#f7fbff"/>
<rect x="474.98" y="2916.52" width="233.48" height="233.63" fill="#f4f9fe"/>
<rect x="707.96" y="2916.52" width="233.48" height="233.63" fill="#f7fbff"/>
<rect x="940.94" y="2916.52" width="233.48" height="233.63" fill="#f7fbff"/>
<rect x="1173.92" y="2916.52" width="233.48" height="233.63" fill="#f7fbff"/>
<rect x="1406.90" y="2916.52" width="233.48" height="233.63" fill="#77b5d9"/>
<rect x="1639.88" y="2916.52" width="233.48" height="233.63" fill="#5ca4d0"/>
<rect x="1872.86" y="2916.52" width="233.48" height="233.63" fill="#f7fbff"/>
<rect x="242.00" y="3149.65" width="233.48" height="233.63" fill="#f2f7fd"/>
<rect x="474.98" y="3149.65" width="233.48" height="233.63" fill="#dae8f6"/>
<rect x="707.96" y="3149.65" width="233.48" height="233.63" fill="#f6faff"/>
<rect x="940.94" y="3149.65" width="233.48" height="233.63" fill="#f5f9fe"/>
<rect x="1173.92" y="3149.65" width="233.48" height="233.63" fill="#f7fbff"/>
<rect x="1406.90" y="3149.65" width="233.48" height="233.63" fill="#1f6eb3"/>
<rect x="1639.88" y="3149.65" width="233.48" height="233.63" fill="#e7f1fa"/>
<rect x="1872.86" y="3149.65" width="233.48" height="233.63" fill="#f7fbff"/>
<rect x="242.00" y="3382.78" width="233.48" height="233.63" fill="#f7fbff"/>
<rect x="474.98" y="3382.78" width="233.48" height="233.63" fill="#3e8ec4"/>
<rect x="707.96" y="3382.78" width="233.48" height="233.63" fill="#f7fbff"/>
<rect x="940.94" y="3382.78" width="233.48" height="233.63" fill="#f7fbff"/>
<rect x="1173.92" y="3382.78" width="233.48" height="233.63" fill="#f7fbff"/>
<rect x="1406.90" y="3382.78" width="233.48" height="233.63" fill="#d4e4f4"/>
<rect x="1639.88" y="3382.78" width="233.48" height="233.63" fill="#ccdff1"/>
<rect x="1872.86" y="3382.78" width="233.48" height="233.63" fill="#f7fbff"/>
<rect x="242.00" y="3615.91" width="233.48" height="233.63" fill="#f6faff"/>
<rect x="474.98" y="3615.91" width="233.48" height="233.63" fill="#f2f8fd"/>
<rect x="707.96" y="3615.91" width="233.48" height="233.63" fill="#f4f9fe"/>
<rect x="940.94" y="3615.91" width="233.48" height="233.63" fill="#91c3de"/>
<rect x="1173.92" y="3615.91" width="233.48" height="233.63" fill="#cbdef1"/>
<rect x="1406.90" y="3615.91" width="233.48" height="233.63" fill="#e2edf8"/>
<rect x="1639.88" y="3615.91" width="233.48" height="233.63" fill="#cddff1"/>
<rect x="1872.86" y="3615.91" width="233.48" height="233.63" fill="#f2f7fd"/>
</g>
<g style="font-family:'DejaVu Sans','Liberation Sans',sans-serif;font-size:55.60px" text-anchor="middle">
<text transform="translate(358.18 2116.77) scale(1 1.03)" fill="#000000">0.00%</text>
<text transform="translate(591.33 2116.77) scale(1 1.03)" fill="#000000">0.00%</text>
<text transform="translate(824.47 2116.77) scale(1 1.03)" fill="#000000">3.95%</text>
<text transform="translate(1057.62 2116.77) scale(1 1.03)" fill="#ffffff">56.50%</text>
<text transform="translate(1290.77 2116.77) scale(1 1.03)" fill="#000000">0.00%</text>
<text transform="translate(1523.92 2116.77) scale(1 1.03)" fill="#000000">3.95%</text>
<text transform="translate(1757.08 2116.77) scale(1 1.03)" fill="#000000">35.59%</text>
<text transform="translate(1990.22 2116.77) scale(1 1.03)" fill="#000000">0.00%</text>
<text transform="translate(358.18 2349.97) scale(1 1.03)" fill="#000000">0.00%</text>
<text transform="translate(591.33 2349.97) scale(1 1.03)" fill="#000000">0.00%</text>
<text transform="translate(824.47 2349.97) scale(1 1.03)" fill="#000000">0.00%</text>
<text transform="translate(1057.62 2349.97) scale(1 1.03)" fill="#000000">0.00%</text>
<text transform="translate(1290.77 2349.97) scale(1 1.03)" fill="#000000">16.77%</text>
<text transform="translate(1523.92 2349.97) scale(1 1.03)" fill="#000000">45.96%</text>
<text transform="translate(1757.08 2349.97) scale(1 1.03)" fill="#000000">37.27%</text>
<text transform="translate(1990.22 2349.97) scale(1 1.03)" fill="#000000">0.00%</text>
<text transform="translate(358.18 2583.17) scale(1 1.03)" fill="#000000">0.00%</text>
<text transform="translate(591.33 2583.17) scale(1 1.03)" fill="#000000">0.00%</text>
<text transform="translate(824.47 2583.17) scale(1 1.03)" fill="#000000">0.00%</text>
<text transform="translate(1057.62 2583.17) scale(1 1.03)" fill="#000000">0.55%</text>
<text transform="translate(1290.77 2583.17) scale(1 1.03)" fill="#000000">3.87%</text>
<text transform="translate(1523.92 2583.17) scale(1 1.03)" fill="#ffffff">79.01%</text>
<text transform="translate(1757.08 2583.17) scale(1 1.03)" fill="#000000">16.57%</text>
<text transform="translate(1990.22 2583.17) scale(1 1.03)" fill="#000000">0.00%</text>
<text transform="translate(358.18 2816.37) scale(1 1.03)" fill="#000000">0.00%</text>
<text transform="translate(591.33 2816.37) scale(1 1.03)" fill="#000000">0.00%</text>
<text transform="translate(824.47 2816.37) scale(1 1.03)" fill="#000000">0.00%</text>
<text transform="translate(1057.62 2816.37) scale(1 1.03)" fill="#000000">0.00%</text>
<text transform="translate(1290.77 2816.37) scale(1 1.03)" fill="#000000">0.00%</text>
<text transform="translate(1523.92 2816.37) scale(1 1.03)" fill="#ffffff">96.67%</text>
<text transform="translate(1757.08 2816.37) scale(1 1.03)" fill="#000000">3.33%</text>
<text transform="translate(1990.22 2816.37) scale(1 1.03)" fill="#000000">0.00%</text>
<text transform="translate(358.18 3049.57) scale(1 1.03)" fill="#000000">0.00%</text>
<text transform="translate(591.33 3049.57) scale(1 1.03)" fill="#000000">1.73%</text>
<text transform="translate(824.47 3049.57) scale(1 1.03)" fill="#000000">0.00%</text>
<text transform="translate(1057.62 3049.57) scale(1 1.03)" fill="#000000">0.00%</text>
<text transform="translate(1290.77 3049.57) scale(1 1.03)" fill="#000000">0.00%</text>
<text transform="translate(1523.92 3049.57) scale(1 1.03)" fill="#000000">45.66%</text>
<text transform="translate(1757.08 3049.57) scale(1 1.03)" fill="#ffffff">52.60%</text>
<text transform="translate(1990.22 3049.57) scale(1 1.03)" fill="#000000">0.00%</text>
<text transform="translate(358.18 3282.77) scale(1 1.03)" fill="#000000">2.80%</text>
<text transform="translate(591.33 3282.77) scale(1 1.03)" fill="#000000">13.99%</text>
<text transform="translate(824.47 3282.77) scale(1 1.03)" fill="#000000">0.70%</text>
<text transform="translate(1057.62 3282.77) scale(1 1.03)" fill="#000000">1.40%</text>
<text transform="translate(1290.77 3282.77) scale(1 1.03)" fill="#000000">0.00%</text>
<text transform="translate(1523.92 3282.77) scale(1 1.03)" fill="#ffffff">73.43%</text>
<text transform="translate(1757.08 3282.77) scale(1 1.03)" fill="#000000">7.69%</text>
<text transform="translate(1990.22 3282.77) scale(1 1.03)" fill="#000000">0.00%</text>
<text transform="translate(358.18 3515.97) scale(1 1.03)" fill="#000000">0.00%</text>
<text transform="translate(591.33 3515.97) scale(1 1.03)" fill="#ffffff">61.70%</text>
<text transform="translate(824.47 3515.97) scale(1 1.03)" fill="#000000">0.00%</text>
<text transform="translate(1057.62 3515.97) scale(1 1.03)" fill="#000000">0.00%</text>
<text transform="translate(1290.77 3515.97) scale(1 1.03)" fill="#000000">0.00%</text>
<text transform="translate(1523.92 3515.97) scale(1 1.03)" fill="#000000">17.02%</text>
<text transform="translate(1757.08 3515.97) scale(1 1.03)" fill="#000000">21.28%</text>
<text transform="translate(1990.22 3515.97) scale(1 1.03)" fill="#000000">0.00%</text>
<text transform="translate(358.18 3749.17) scale(1 1.03)" fill="#000000">0.57%</text>
<text transform="translate(591.33 3749.17) scale(1 1.03)" fill="#000000">2.29%</text>
<text transform="translate(824.47 3749.17) scale(1 1.03)" fill="#000000">1.71%</text>
<text transform="translate(1057.62 3749.17) scale(1 1.03)" fill="#000000">39.43%</text>
<text transform="translate(1290.77 3749.17) scale(1 1.03)" fill="#000000">21.71%</text>
<text transform="translate(1523.92 3749.17) scale(1 1.03)" fill="#000000">10.29%</text>
<text transform="translate(1757.08 3749.17) scale(1 1.03)" fill="#000000">21.14%</text>
<text transform="translate(1990.22 3749.17) scale(1 1.03)" fill="#000000">2.86%</text>
</g>
<rect x="242.80" y="1985.20" width="1865.20" height="1865.60" fill="none" stroke="#000" stroke-width="4.30"/>
<g stroke="#000" stroke-width="4.30">
<line x1="359.38" y1="3850.80" x2="359.38" y2="3870.80"/>
<line x1="222.80" y1="2102.30" x2="242.80" y2="2102.30"/>
<line x1="592.53" y1="3850.80" x2="592.53" y2="3870.80"/>
<line x1="222.80" y1="2335.50" x2="242.80" y2="2335.50"/>
<line x1="825.67" y1="3850.80" x2="825.67" y2="3870.80"/>
<line x1="222.80" y1="2568.70" x2="242.80" y2="2568.70"/>
<line x1="1058.83" y1="3850.80" x2="1058.83" y2="3870.80"/>
<line x1="222.80" y1="2801.90" x2="242.80" y2="2801.90"/>
<line x1="1291.97" y1="3850.80" x2="1291.97" y2="3870.80"/>
<line x1="222.80" y1="3035.10" x2="242.80" y2="3035.10"/>
<line x1="1525.12" y1="3850.80" x2="1525.12" y2="3870.80"/>
<line x1="222.80" y1="3268.30" x2="242.80" y2="3268.30"/>
<line x1="1758.28" y1="3850.80" x2="1758.28" y2="3870.80"/>
<line x1="222.80" y1="3501.50" x2="242.80" y2="3501.50"/>
<line x1="1991.42" y1="3850.80" x2="1991.42" y2="3870.80"/>
<line x1="222.80" y1="3734.70" x2="242.80" y2="3734.70"/>
</g>
<g style="font-family:'DejaVu Sans','Liberation Sans',sans-serif;font-size:56.50px" fill="#000">
<text text-anchor="middle" transform="translate(358.77 3935.60) scale(0.975 1.010)">U1</text>
<text text-anchor="middle" transform="translate(591.93 3935.60) scale(0.975 1.010)">U2</text>
<text text-anchor="middle" transform="translate(825.07 3935.60) scale(0.975 1.010)">U3</text>
<text text-anchor="middle" transform="translate(1058.23 3935.60) scale(0.975 1.010)">U4</text>
<text text-anchor="middle" transform="translate(1291.38 3935.60) scale(0.975 1.010)">U5</text>
<text text-anchor="middle" transform="translate(1524.53 3935.60) scale(0.975 1.010)">U6</text>
<text text-anchor="middle" transform="translate(1757.68 3935.60) scale(0.975 1.010)">U7</text>
<text text-anchor="middle" transform="translate(1990.83 3935.60) scale(0.975 1.010)">U8</text>
<text text-anchor="end" transform="translate(201.50 2123.63) scale(0.970 1.000)">U1</text>
<text text-anchor="end" transform="translate(201.50 2356.83) scale(0.970 1.000)">U2</text>
<text text-anchor="end" transform="translate(201.50 2590.03) scale(0.970 1.000)">U3</text>
<text text-anchor="end" transform="translate(201.50 2823.23) scale(0.970 1.000)">U4</text>
<text text-anchor="end" transform="translate(201.50 3056.43) scale(0.970 1.000)">U5</text>
<text text-anchor="end" transform="translate(201.50 3289.63) scale(0.970 1.000)">U6</text>
<text text-anchor="end" transform="translate(201.50 3522.83) scale(0.970 1.000)">U7</text>
<text text-anchor="end" transform="translate(201.50 3756.03) scale(0.970 1.000)">U8</text>
</g>
<text style="font-family:'DejaVu Sans','Liberation Sans',sans-serif;font-size:67.80px" text-anchor="middle" x="1174.80" y="4019.00">Predicted Label</text>
<text style="font-family:'DejaVu Sans','Liberation Sans',sans-serif;font-size:67.80px" text-anchor="middle" transform="translate(88.70 2918.00) rotate(-90)">True Label</text>
<rect x="2232.90" y="1985.20" width="92.70" height="1865.50" fill="url(#gb)" stroke="#000" stroke-width="4.30"/>
<g stroke="#000" stroke-width="4.30">
<line x1="2325.60" y1="3850.70" x2="2345.60" y2="3850.70"/>
<line x1="2325.60" y1="3464.75" x2="2345.60" y2="3464.75"/>
<line x1="2325.60" y1="3078.80" x2="2345.60" y2="3078.80"/>
<line x1="2325.60" y1="2692.84" x2="2345.60" y2="2692.84"/>
<line x1="2325.60" y1="2306.89" x2="2345.60" y2="2306.89"/>
</g>
<g style="font-family:'DejaVu Sans','Liberation Sans',sans-serif;font-size:56.50px" fill="#000">
<text transform="translate(2365.20 3871.69) scale(0.98 1)">0.0</text>
<text transform="translate(2365.20 3485.74) scale(0.98 1)">0.2</text>
<text transform="translate(2365.20 3099.79) scale(0.98 1)">0.4</text>
<text transform="translate(2365.20 2713.84) scale(0.98 1)">0.6</text>
<text transform="translate(2365.20 2327.89) scale(0.98 1)">0.8</text>
</g>
<text style="font-family:'Liberation Serif',serif;font-size:76px" text-anchor="middle" transform="translate(1225.4 4171.3) scale(0.985 1)">(<tspan font-weight="bold">b</tspan>)</text>
</svg>
</body></html>
